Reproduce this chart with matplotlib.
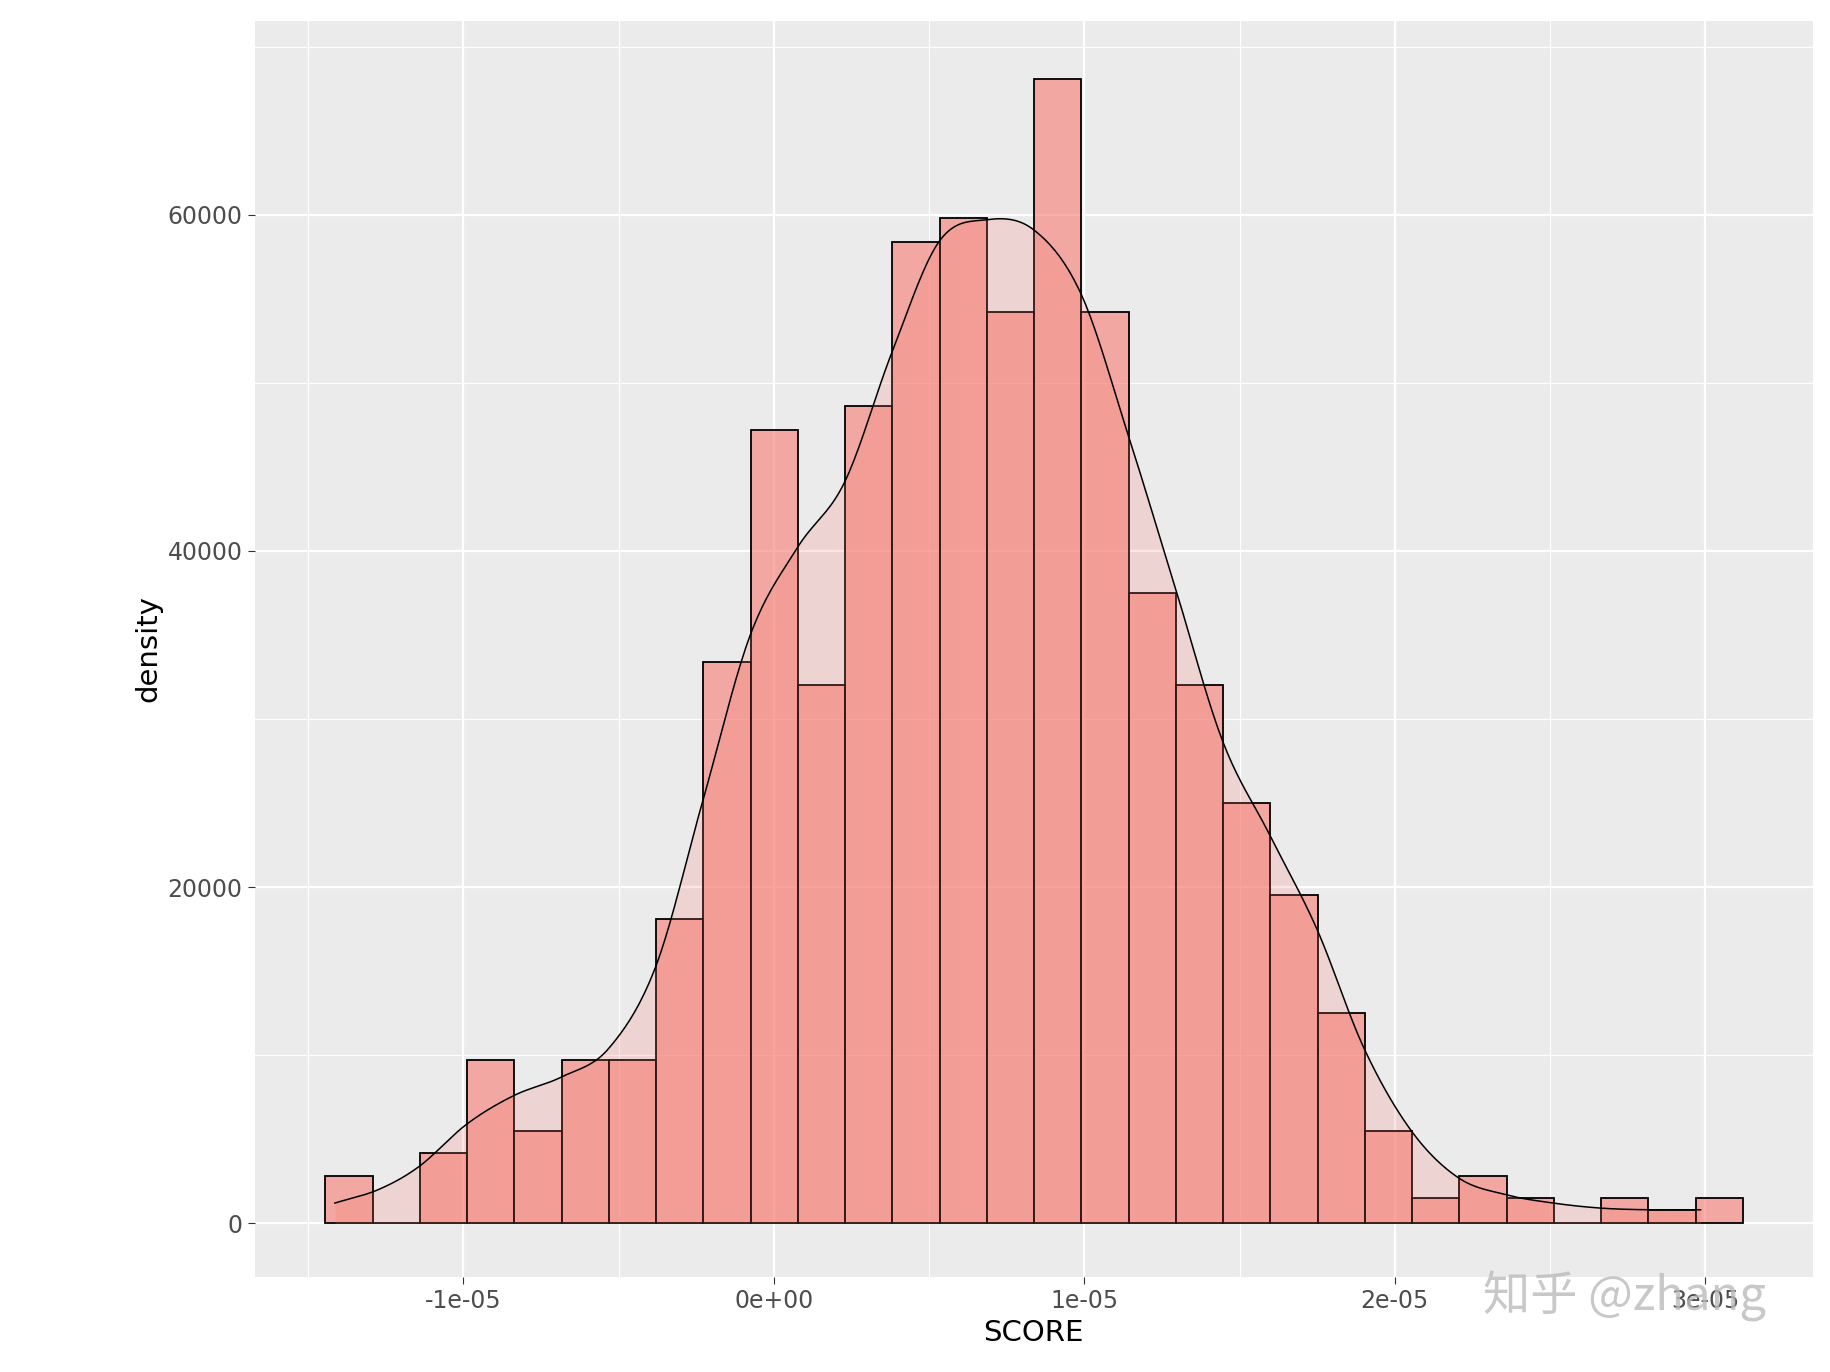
import numpy as np
import matplotlib
matplotlib.use("Agg")
import matplotlib.pyplot as plt
from matplotlib.ticker import MultipleLocator
from matplotlib.colors import to_rgba

bin_start = -1.445e-5
bin_width = 1.522e-6
heights = [2800, 0, 4200, 9700, 5500, 9700, 9700, 18100, 33400, 47200, 32000, 48600,
           58400, 59800, 54200, 68100, 54200, 37500, 32000, 25000, 19500, 12500, 5500,
           1500, 2800, 1500, 0, 1500, 800, 1500]
dens_x = [-1.414, -1.274, -1.141, -0.989, -0.837, -0.684, -0.532, -0.380, -0.228, -0.076,
          0.076, 0.228, 0.380, 0.532, 0.684, 0.837, 0.989, 1.141, 1.293, 1.445, 1.597,
          1.749, 1.901, 2.053, 2.205, 2.357, 2.510, 2.662, 2.814, 2.985]
dens_y = [1200, 2000, 3400, 5900, 7600, 8700, 10400, 15300, 25200, 35000, 40200, 44100,
          51800, 58400, 59700, 59100, 55300, 46900, 37800, 28700, 23100, 17500, 10400,
          5500, 2700, 1700, 1200, 900, 800, 800]

def catmull(xs, ys, n=20):
    xs = np.asarray(xs, float); ys = np.asarray(ys, float)
    px = np.concatenate([[2*xs[0]-xs[1]], xs, [2*xs[-1]-xs[-2]]])
    py = np.concatenate([[2*ys[0]-ys[1]], ys, [2*ys[-1]-ys[-2]]])
    ox, oy = [], []
    t = np.linspace(0, 1, n, endpoint=False)
    for i in range(1, len(px)-2):
        for p, o in ((px, ox), (py, oy)):
            p0, p1, p2, p3 = p[i-1], p[i], p[i+1], p[i+2]
            o.extend(0.5*((2*p1) + (-p0+p2)*t + (2*p0-5*p1+4*p2-p3)*t**2 + (-p0+3*p1-3*p2+p3)*t**3))
    ox.append(xs[-1]); oy.append(ys[-1])
    return np.array(ox), np.array(oy)

fig = plt.figure(figsize=(18.31, 13.72), dpi=100)
ax = fig.add_axes([0.139, 0.069, 0.851, 0.916])
ax.set_facecolor("#EBEBEB")
for s in ax.spines.values():
    s.set_visible(False)

lefts = bin_start + bin_width * np.arange(len(heights))
ax.bar(lefts, heights, width=bin_width, align="edge", color=to_rgba("#F8766D", 0.58),
       edgecolor="black", linewidth=1.3, zorder=3)
sx, sy = catmull(np.array(dens_x) * 1e-5, dens_y)
ax.fill_between(sx, sy, color="#F8766D", alpha=0.2, linewidth=0, zorder=4)
ax.plot(sx, sy, color="black", linewidth=1.1, zorder=5)

ax.set_xlim(-1.673e-5, 3.346e-5)
ax.set_ylim(-3220, 71550)
ax.set_xticks([-1e-5, 0, 1e-5, 2e-5, 3e-5])
ax.set_xticklabels(["-1e-05", "0e+00", "1e-05", "2e-05", "3e-05"])
ax.set_yticks([0, 20000, 40000, 60000])
ax.set_yticklabels(["0", "20000", "40000", "60000"])
ax.xaxis.set_minor_locator(MultipleLocator(0.5e-5))
ax.yaxis.set_minor_locator(MultipleLocator(10000))
ax.grid(which="major", color="white", linewidth=1.6, zorder=0)
ax.grid(which="minor", color="white", linewidth=0.8, zorder=0)
ax.set_axisbelow(True)
ax.tick_params(which="major", length=5, color="#333333", labelsize=17, labelcolor="#4D4D4D")
ax.tick_params(which="minor", length=0)
ax.set_xlabel("SCORE", fontsize=21)
ax.set_ylabel("density", fontsize=21)

fig.text(0.81, 0.045, "知乎 @zhang", fontsize=34, color="#BBBBBB", alpha=0.8,
         family=["Noto Sans CJK SC", "DejaVu Sans"])
fig.savefig("out.png", dpi=100)
